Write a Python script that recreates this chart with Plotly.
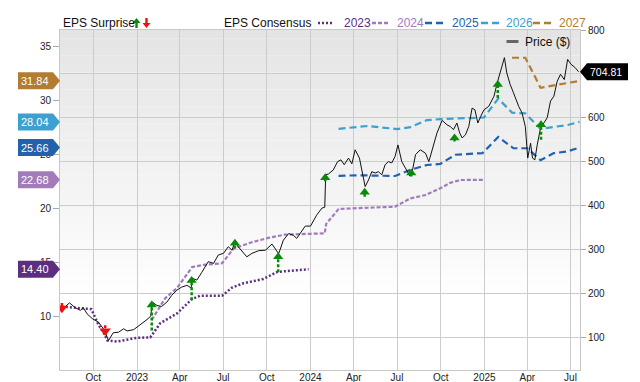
import plotly.graph_objects as go

# ---------------- data ----------------
price_dates = [
    "2022-07-27", "2022-08-12", "2022-08-24", "2022-09-04", "2022-09-10", "2022-09-18", "2022-09-29",
    "2022-10-12", "2022-10-25", "2022-11-02", "2022-11-12", "2022-11-23", "2022-12-04", "2022-12-11",
    "2022-12-25", "2023-01-07", "2023-01-22", "2023-01-30", "2023-02-02", "2023-02-12", "2023-02-22",
    "2023-03-05", "2023-03-15", "2023-03-26", "2023-04-05", "2023-04-16", "2023-04-25", "2023-04-27",
    "2023-05-07", "2023-05-17", "2023-05-31", "2023-06-11", "2023-06-21", "2023-07-02", "2023-07-12",
    "2023-07-20", "2023-07-27", "2023-08-02", "2023-08-09", "2023-08-20", "2023-08-31", "2023-09-14",
    "2023-09-28", "2023-10-12", "2023-10-26", "2023-11-05", "2023-11-16", "2023-11-26", "2023-12-03",
    "2023-12-10", "2023-12-21", "2024-01-01", "2024-01-07", "2024-01-14", "2024-01-25", "2024-01-31",
    "2024-02-02", "2024-02-08", "2024-02-18", "2024-02-27", "2024-03-05", "2024-03-12", "2024-03-21",
    "2024-03-28", "2024-04-04", "2024-04-13", "2024-04-25", "2024-05-02", "2024-05-09", "2024-05-16",
    "2024-05-23", "2024-05-30", "2024-06-06", "2024-06-13", "2024-06-20", "2024-06-27", "2024-07-03",
    "2024-07-11", "2024-07-21", "2024-07-28", "2024-08-02", "2024-08-09", "2024-08-19", "2024-08-30",
    "2024-09-06", "2024-09-16", "2024-09-23", "2024-10-04", "2024-10-14", "2024-10-21", "2024-10-28",
    "2024-11-04", "2024-11-10", "2024-11-15", "2024-11-22", "2024-11-29", "2024-12-06", "2024-12-12",
    "2024-12-18", "2024-12-24", "2024-12-31", "2025-01-10", "2025-01-21", "2025-01-28", "2025-02-03",
    "2025-02-12", "2025-02-17", "2025-02-24", "2025-03-03", "2025-03-14", "2025-03-21", "2025-03-28",
    "2025-04-02", "2025-04-08", "2025-04-12", "2025-04-17", "2025-04-22", "2025-04-29", "2025-05-06",
    "2025-05-13", "2025-05-20", "2025-05-27", "2025-06-03", "2025-06-10", "2025-06-18", "2025-06-25",
    "2025-07-02", "2025-07-11", "2025-07-18",
]
price_values = [
    163, 178, 167, 161, 167, 153, 142,
    134, 115, 92, 110, 111, 119, 114,
    117, 127, 140, 148, 180, 172, 170,
    180, 195, 207, 214, 218, 212, 234,
    230, 247, 272, 268, 287, 291, 306,
    298, 321, 306, 298, 283, 291, 297,
    298, 312, 290, 321, 336, 332, 325,
    336, 353, 353, 364, 378, 394, 396,
    470, 472, 481, 500, 504, 493, 508,
    495, 527, 508, 443, 458, 477, 474,
    477, 470, 493, 500, 497, 512, 538,
    500, 481, 467, 477, 516, 527, 519,
    500, 542, 565, 594, 584, 580, 573,
    588, 565, 554, 561, 580, 622, 618,
    588, 603, 618, 626, 649, 680, 702,
    737, 702, 676, 657, 626, 611, 580,
    508, 542, 508, 504, 538, 577, 588,
    600, 638, 649, 683, 699, 687, 733,
    722, 714, 704.81,
]

eps2023_dates = ["2022-07-27", "2022-08-13", "2022-09-04", "2022-09-27", "2022-10-12", "2022-10-23",
                 "2022-10-31", "2022-11-20", "2023-01-01", "2023-01-29", "2023-02-19", "2023-03-26",
                 "2023-04-27", "2023-05-14", "2023-06-29", "2023-07-20", "2023-08-13", "2023-09-24",
                 "2023-10-23", "2023-11-20", "2023-12-28"]
eps2023_values = [10.95, 10.87, 10.80, 10.70, 9.25, 8.50, 7.80, 7.70, 8.05, 8.09, 9.40, 10.30,
                  11.65, 11.94, 11.94, 12.70, 13.10, 13.50, 14.15, 14.26, 14.40]

eps2024_dates = ["2023-02-01", "2023-03-01", "2023-03-26", "2023-04-27", "2023-05-21", "2023-06-29",
                 "2023-07-23", "2023-08-27", "2023-10-04", "2023-11-08", "2023-12-31", "2024-01-31",
                 "2024-02-03", "2024-02-14", "2024-02-29", "2024-04-01", "2024-06-27", "2024-07-29",
                 "2024-08-30", "2024-10-05", "2024-10-21", "2024-11-11", "2024-12-31"]
eps2024_values = [9.70, 11.70, 12.65, 14.60, 14.80, 14.95, 16.30, 16.85, 17.30, 17.60, 17.68, 17.72,
                  18.60, 19.20, 19.97, 20.04, 20.19, 20.96, 21.27, 22.00, 22.40, 22.66, 22.68]

eps2025_dates = ["2024-02-29", "2024-04-11", "2024-06-27", "2024-07-29", "2024-09-02", "2024-09-30",
                 "2024-11-01", "2024-12-28", "2025-01-30", "2025-03-03", "2025-04-01", "2025-04-29",
                 "2025-05-27", "2025-06-24", "2025-07-20"]
eps2025_values = [23.05, 23.10, 23.03, 23.60, 24.05, 24.15, 25.00, 25.15, 26.65, 25.60, 25.60, 24.50,
                  25.15, 25.30, 25.66]

eps2026_dates = ["2024-02-29", "2024-04-29", "2024-07-01", "2024-07-29", "2024-09-02", "2024-09-30",
                 "2024-12-31", "2025-01-30", "2025-02-28", "2025-03-28", "2025-04-29", "2025-05-27",
                 "2025-06-24", "2025-07-20"]
eps2026_values = [27.40, 27.66, 27.38, 27.55, 28.20, 28.30, 28.45, 30.20, 28.90, 28.83, 27.40, 27.60,
                  27.75, 28.04]

eps2027_dates = ["2025-02-28", "2025-03-28", "2025-04-29", "2025-05-30", "2025-06-24", "2025-07-20"]
eps2027_values = [33.98, 33.98, 31.20, 31.45, 31.70, 31.84]

series_names = ["2023", "2024", "2025", "2026", "2027"]
series_colors = ["#5c2e82", "#a27bbb", "#2262ad", "#3ea0d0", "#b27d31"]
series_dash = ["2px,2px", "4px,2px", "7px,4px", "7px,4px", "7px,4px"]
tag_values = [31.84, 28.04, 25.66, 22.68, 14.40]
tag_colors = ["#b27d31", "#3ea0d0", "#2262ad", "#a27bbb", "#5c2e82"]
last_price = 704.81

# EPS surprises: date, price at tail, price at arrow head
beat_dates = ["2023-02-01", "2023-04-26", "2023-07-26", "2023-10-25", "2024-02-01",
              "2024-04-24", "2024-07-31", "2024-10-30", "2025-01-29", "2025-04-30"]
beat_tail = [115, 184, 302, 248, 455, 420, 466, 546, 645, 550]
beat_head = [173, 229, 314, 283, 463, 430, 474, 554, 676, 584]
miss_dates = ["2022-07-27", "2022-10-26"]
miss_tail = [178, 127]
miss_head = [166, 114]

x_tickvals = ["2022-10-01", "2023-01-01", "2023-04-01", "2023-07-01", "2023-10-01", "2024-01-01",
              "2024-04-01", "2024-07-01", "2024-10-01", "2025-01-01", "2025-04-01", "2025-07-01"]
x_ticktext = ["Oct", "2023", "Apr", "Jul", "Oct", "2024", "Apr", "Jul", "Oct", "2025", "Apr", "Jul"]
left_ticks = [10, 15, 20, 25, 30, 35]
right_ticks = [100, 200, 300, 400, 500, 600, 700, 800]

FONT = "Liberation Sans, Arial, Helvetica, sans-serif"
GREEN = "#0a8a0a"
RED = "#f01010"

# ---------------- figure ----------------
fig = go.Figure()

eps_sets = [(eps2023_dates, eps2023_values), (eps2024_dates, eps2024_values),
            (eps2025_dates, eps2025_values), (eps2026_dates, eps2026_values),
            (eps2027_dates, eps2027_values)]
for (d, v), name, col, dash in zip(eps_sets, series_names, series_colors, series_dash):
    fig.add_trace(go.Scatter(x=d, y=v, mode="lines", name=name, yaxis="y",
                             line=dict(color=col, width=2.5 if name == "2023" else 2.2, dash=dash),
                             hoverinfo="skip"))

fig.add_trace(go.Scatter(x=price_dates, y=price_values, mode="lines", name="Price ($)", yaxis="y2",
                         line=dict(color="#111111", width=1)))

# surprise arrows
sx, sy = [], []
for d, t, h in zip(beat_dates, beat_tail, beat_head):
    sx += [d, d, None]
    sy += [t, h, None]
fig.add_trace(go.Scatter(x=sx, y=sy, mode="lines", yaxis="y2", line=dict(color=GREEN, width=2.5, dash="3px,2px"),
                         hoverinfo="skip"))
fig.add_trace(go.Scatter(x=beat_dates, y=beat_head, mode="markers", yaxis="y2",
                         marker=dict(symbol="triangle-up", size=9, color=GREEN), hoverinfo="skip"))
rx, ry = [], []
for d, t, h in zip(miss_dates, miss_tail, miss_head):
    rx += [d, d, None]
    ry += [t, h, None]
fig.add_trace(go.Scatter(x=rx, y=ry, mode="lines", yaxis="y2", line=dict(color=RED, width=2.5, dash="3px,2px"),
                         hoverinfo="skip"))
fig.add_trace(go.Scatter(x=miss_dates, y=miss_head, mode="markers", yaxis="y2",
                         marker=dict(symbol="triangle-down", size=10, color=RED), hoverinfo="skip"))

# gradient background bands
n_bands = 40
for i in range(n_bands):
    t = (i + 0.5) / n_bands  # from top
    c = int(round(228 + (255 - 228) * min(1.0, t / 0.8)))
    fig.add_shape(type="rect", xref="paper", yref="paper", x0=0, x1=1,
                  y0=1 - (i + 1) / n_bands, y1=1 - i / n_bands,
                  fillcolor=f"rgb({c},{c},{c})", line_width=0, layer="below")

# left value tags
for val, col in zip(tag_values, tag_colors):
    fig.add_shape(type="path", xref="paper", yref="y", xsizemode="pixel", ysizemode="pixel",
                  xanchor=0, yanchor=val,
                  path="M-42,-8.5 L-7,-8.5 L0,0 L-7,8.5 L-42,8.5 Z",
                  fillcolor=col, line_width=0, layer="above")
    fig.add_annotation(xref="paper", yref="y", x=0, y=val, xshift=-25, xanchor="center", yanchor="middle",
                       text=f"{val:.2f}", showarrow=False, font=dict(family=FONT, size=11, color="white"))

# right price tag
fig.add_shape(type="path", xref="paper", yref="y2", xsizemode="pixel", ysizemode="pixel",
              xanchor=1, yanchor=last_price,
              path="M0,0 L7,8.5 L48,8.5 L48,-8.5 L7,-8.5 Z",
              fillcolor="black", line_width=0, layer="above")
fig.add_annotation(xref="paper", yref="y2", x=1, y=last_price, xshift=26, xanchor="center", yanchor="middle",
                   text=f"{last_price:.2f}", showarrow=False, font=dict(family=FONT, size=10.5, color="white"))

# header legend
W, H, L, T = 520.0, 340.0, 60.0, 30.0
def px(x):
    return (x - L) / W
def py(y):
    return (T + H - y) / H

hy = 23
fig.add_annotation(xref="paper", yref="paper", x=px(60.5), y=py(hy), xanchor="left", yanchor="middle",
                   text="EPS Surprise", showarrow=False, font=dict(family=FONT, size=12, color="#111"))
fig.add_shape(type="path", xref="paper", yref="paper", xsizemode="pixel", ysizemode="pixel",
              xanchor=px(136.5), yanchor=py(hy),
              path="M-4,0 L0,5 L4,0 L1.2,0 L1.2,-5 L-1.2,-5 L-1.2,0 Z", fillcolor=GREEN, line_width=0)
fig.add_shape(type="path", xref="paper", yref="paper", xsizemode="pixel", ysizemode="pixel",
              xanchor=px(146.5), yanchor=py(hy),
              path="M-4,0 L0,-5 L4,0 L1.2,0 L1.2,5 L-1.2,5 L-1.2,0 Z", fillcolor=RED, line_width=0)
fig.add_annotation(xref="paper", yref="paper", x=px(222), y=py(hy), xanchor="left", yanchor="middle",
                   text="EPS Consensus", showarrow=False, font=dict(family=FONT, size=12, color="#111"))
leg_sample = [(318, 333), (372, 389), (425, 445), (481, 499), (533, 553)]
leg_text_x = [341.5, 395, 450, 504, 557]
for (a, b), tx, name, col, dash in zip(leg_sample, leg_text_x, series_names, series_colors, series_dash):
    fig.add_shape(type="line", xref="paper", yref="paper", x0=px(a), x1=px(b), y0=py(hy), y1=py(hy),
                  line=dict(color=col, width=2.5, dash=dash))
    fig.add_annotation(xref="paper", yref="paper", x=px(tx), y=py(hy), xanchor="left", yanchor="middle",
                       text=name, showarrow=False, font=dict(family=FONT, size=12, color=col))

# price legend inside plot
fig.add_shape(type="line", xref="paper", yref="paper", x0=px(506.5), x1=px(518.5), y0=py(41.5), y1=py(41.5),
              line=dict(color="#666666", width=3))
fig.add_annotation(xref="paper", yref="paper", x=px(522.5), y=py(41.5), xanchor="left", yanchor="middle",
                   text="Price ($)", showarrow=False, font=dict(family=FONT, size=12, color="#111"))

fig.update_layout(
    width=640, height=382,
    margin=dict(l=60, r=60, t=30, b=12, autoexpand=False),
    paper_bgcolor="white", plot_bgcolor="white",
    showlegend=False,
    font=dict(family=FONT, size=10, color="#222"),
    xaxis=dict(type="date", range=["2022-07-23", "2025-07-21"], tickvals=x_tickvals, ticktext=x_ticktext,
               showgrid=True, gridcolor="#cccccc", gridwidth=1, showline=True, mirror=True,
               linecolor="#c8c8c8", linewidth=1, ticks="", tickfont=dict(size=10, color="#222"),
               ticklabelstandoff=-2, zeroline=False, automargin=False),
    yaxis=dict(range=[5.07, 36.55], tickvals=left_ticks, showgrid=False, zeroline=False,
               showline=True, linecolor="#c8c8c8", ticks="outside", ticklen=6, tickcolor="#aaaaaa",
               tickfont=dict(size=10, color="#222"), automargin=False),
    yaxis2=dict(range=[25, 800], tickvals=right_ticks, overlaying="y", side="right", showgrid=True,
                gridcolor="#cccccc", gridwidth=1, zeroline=False, showline=True, linecolor="#c8c8c8",
                ticks="outside", ticklen=5, tickcolor="#aaaaaa", tickfont=dict(size=10, color="#222"),
                automargin=False),
)

fig.write_html("out.html", config={"displayModeBar": False},
               post_script="document.body.style.margin='0';document.body.style.padding='0';"
                           "document.body.style.overflow='hidden';")
